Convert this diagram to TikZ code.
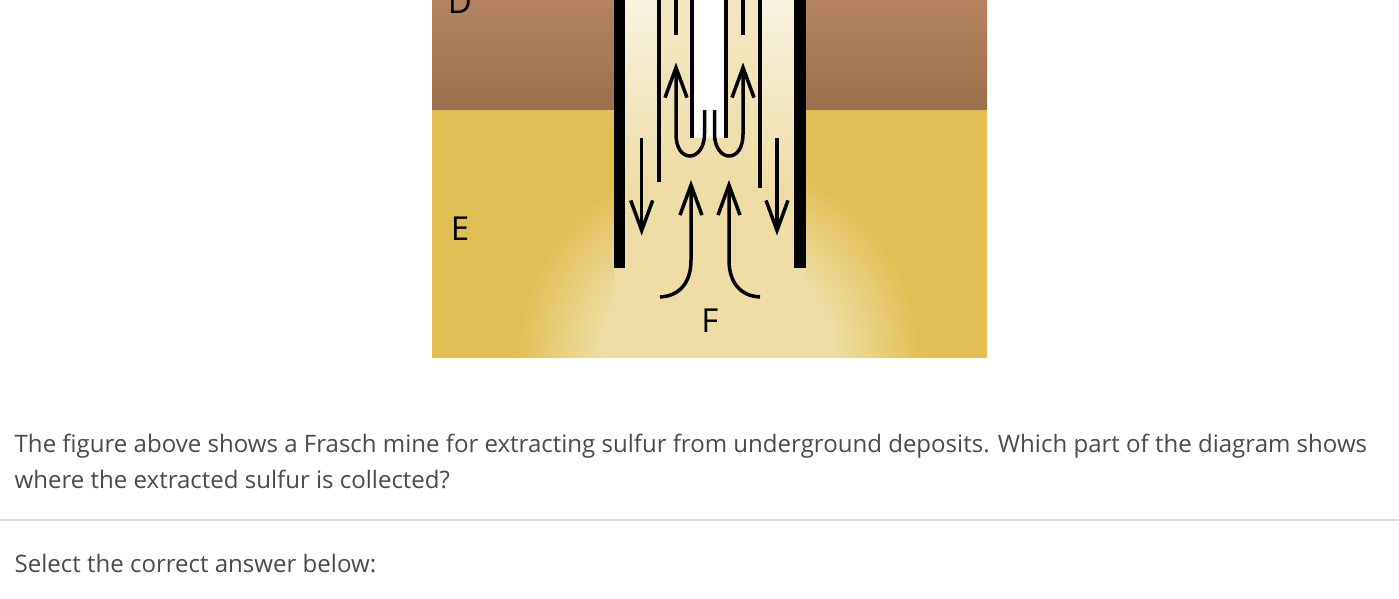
\documentclass[tikz,border=0pt]{standalone}
\usepackage{fontspec}
\setmainfont{Open Sans}
\usetikzlibrary{arrows.meta}
\definecolor{soiltop}{HTML}{B5835F}
\definecolor{soilbot}{HTML}{9C704C}
\definecolor{sulfur}{HTML}{E2BF55}
\definecolor{molten}{HTML}{EFDDA5}
\definecolor{shafttop}{HTML}{F9F3E0}
\definecolor{bandtop}{HTML}{F4E7C4}
\definecolor{prose}{HTML}{4A4A4A}
\definecolor{rulecol}{HTML}{DDDDDD}
\pgfdeclareradialshading{glowshade}{\pgfpoint{0bp}{0bp}}{color(0bp)=(molten); color(14bp)=(molten); color(24.5bp)=(sulfur); color(25bp)=(sulfur)}
\tikzset{
	x=1pt, y=-1pt,
	wall/.style={fill=black},
	pipe/.style={draw=black, line width=3.5pt},
	flow/.style={pipe, -{Straight Barb[length=30pt, width=22pt, line width=3.5pt]}},
	letter/.style={font=\fontsize{33}{33}\selectfont, text=black, inner sep=0pt},
	prosetext/.style={font=\fontsize{24.04}{29}\selectfont, text=prose, inner sep=0pt, anchor=base west},
}
\begin{document}
\begin{tikzpicture}
	\useasboundingbox (0,0) rectangle (1399,598);
	\fill[white] (0,0) rectangle (1399,598);
	\shade[top color=soiltop, bottom color=soilbot] (432,0) rectangle (987,110);
	\fill[sulfur] (432,110) rectangle (987,358);
	\begin{scope}
		\clip (432,110) rectangle (987,358);
		\shade[shading=glowshade] (718,360) circle (206);
	\end{scope}
	\fill[white] (432,358) rectangle (987,366);
	\fill[molten] (615,268) rectangle (805,358);
	\shade[top color=shafttop, bottom color=molten] (620,0) rectangle (800,190);
	\fill[molten] (620,189.5) rectangle (800,268);
	\shade[top color=bandtop, bottom color=molten] (659,0) rectangle (760,190);
	\fill[white] (693,0) rectangle (726,138);
	\fill[wall] (613.5,0) rectangle (625,268);
	\fill[wall] (794,0) rectangle (805.5,268);
	\coordinate (outerLtop) at (659,-2);
	\coordinate (outerLbot) at (659,182);
	\coordinate (outerRtop) at (760,-2);
	\coordinate (outerRbot) at (760,188);
	\coordinate (innerLtop) at (692,-2);
	\coordinate (innerLbot) at (692,138);
	\coordinate (innerRtop) at (726,-2);
	\coordinate (innerRbot) at (726,138);
	\coordinate (dashLtop) at (676,-2);
	\coordinate (dashLbot) at (676,35);
	\coordinate (dashRtop) at (743,-2);
	\coordinate (dashRbot) at (743,35);
	\coordinate (stubL) at (704.5,110);
	\coordinate (stubR) at (714.5,110);
	\coordinate (tipL) at (676,62.5);
	\coordinate (tipR) at (743,62.5);
	\coordinate (downLtop) at (641.7,138);
	\coordinate (downLtip) at (641.7,235.5);
	\coordinate (downRtop) at (777,138);
	\coordinate (downRtip) at (777,235.5);
	\coordinate (riseLstart) at (660,297);
	\coordinate (riseLtip) at (691,180);
	\coordinate (riseRstart) at (760,297);
	\coordinate (riseRtip) at (729,180);
	\draw[pipe] (outerLtop) -- (outerLbot);
	\draw[pipe] (outerRtop) -- (outerRbot);
	\draw[pipe] (innerLtop) -- (innerLbot);
	\draw[pipe] (innerRtop) -- (innerRbot);
	\draw[pipe] (dashLtop) -- (dashLbot);
	\draw[pipe] (dashRtop) -- (dashRbot);
	\draw[flow] (stubL) -- (704.5,134) .. controls (704.5,148) and (697,156) .. (690,156) .. controls (682,156) and (676,148) .. (676,134) -- (tipL);
	\draw[flow] (stubR) -- (714.5,134) .. controls (714.5,148) and (722,156) .. (729,156) .. controls (737,156) and (743,148) .. (743,134) -- (tipR);
	\draw[flow] (downLtop) -- (downLtip);
	\draw[flow] (downRtop) -- (downRtip);
	\draw[flow] (riseLstart) .. controls (680,296) and (691,282) .. (691,260) -- (riseLtip);
	\draw[flow] (riseRstart) .. controls (740,296) and (729,282) .. (729,260) -- (riseRtip);
	\node[letter, anchor=base] (labelD) at (460,13) {D};
	\node[letter, anchor=base] (labelE) at (460,240) {E};
	\node[letter, anchor=base] (labelF) at (710,332) {F};
	\node[prosetext] (questionA) at (14.5,452) {The figure above shows a Frasch mine for extracting sulfur from underground deposits. Which part of the diagram shows};
	\node[prosetext] (questionB) at (14.5,488) {where the extracted sulfur is collected?};
	\coordinate (ruleL) at (0,520);
	\coordinate (ruleR) at (1399,520);
	\draw[rulecol, line width=1.5pt] (ruleL) -- (ruleR);
	\node[prosetext] (selectLine) at (14.5,572) {Select the correct answer below:};
\end{tikzpicture}
\end{document}
